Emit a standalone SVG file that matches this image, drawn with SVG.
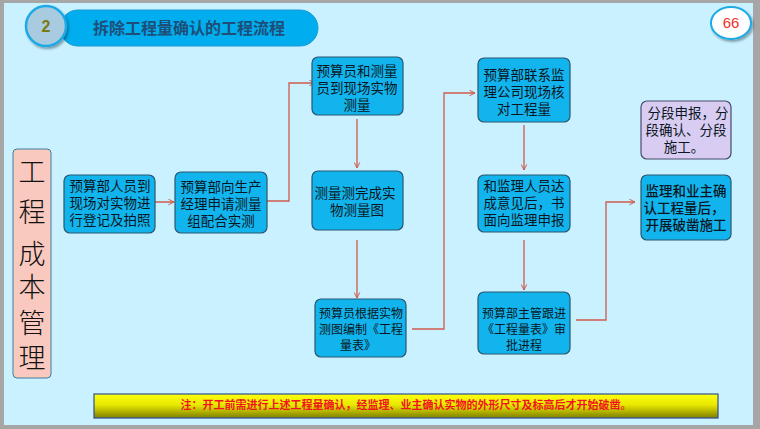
<svg xmlns="http://www.w3.org/2000/svg" width="760" height="429" viewBox="0 0 760 429">
<defs>
<style>
.box{fill:#12B4EE;stroke:#2A566E;stroke-width:1.2}
.lav{fill:#D8CCF2;stroke:#4A4A6A;stroke-width:1.2}
.t{font-family:"Liberation Sans","Noto Sans CJK SC",sans-serif;font-size:13.5px;fill:#0A1622;text-anchor:middle}
.s{font-size:12px}
.b{font-weight:500}
.con{fill:none;stroke:#CF5A4C;stroke-width:1.3}
</style>
<marker id="ar" viewBox="0 0 10 10" refX="9" refY="5" markerWidth="7" markerHeight="7" orient="auto" markerUnits="userSpaceOnUse">
<path d="M1,1 L9,5 L1,9" fill="none" stroke="#CF5A4C" stroke-width="1.4"/>
</marker>
<linearGradient id="yg" x1="0" y1="0" x2="0" y2="1">
<stop offset="0" stop-color="#FFFF10"/>
<stop offset="0.45" stop-color="#E8E800"/>
<stop offset="1" stop-color="#7F7F00"/>
</linearGradient>
<filter id="sh" x="-20%" y="-20%" width="140%" height="140%">
<feDropShadow dx="1.5" dy="2" stdDeviation="1.2" flood-color="#000" flood-opacity="0.35"/>
</filter>
</defs>
<rect x="0" y="0" width="760" height="429" fill="#A6A6A6"/>
<rect x="4" y="3" width="749" height="422" fill="#C9F1FF"/>

<g id="header">
<rect x="60" y="10" width="258" height="36" rx="18" fill="#00ADEF" stroke="#1A9AD0" stroke-width="1"/>
<circle cx="46" cy="26" r="20" fill="#A9CBE0" stroke="#1AA9E6" stroke-width="2.5" filter="url(#sh)"/>
<text x="46" y="32" font-family="Liberation Sans,sans-serif" font-size="16" font-weight="bold" fill="#7A7A10" text-anchor="middle">2</text>
<text x="189" y="34" font-family="Noto Sans CJK SC,sans-serif" font-size="16" font-weight="bold" fill="#1D4F78" text-anchor="middle">拆除工程量确认的工程流程</text>
</g>

<g id="page">
<ellipse cx="731" cy="23" rx="20" ry="16" fill="#FFFFFF" stroke="#1AA9E6" stroke-width="2" filter="url(#sh)"/>
<text x="731" y="28" font-family="Liberation Sans,sans-serif" font-size="15" fill="#F0302A" text-anchor="middle">66</text>
</g>

<g id="side">
<rect x="13" y="149" width="38" height="229" rx="4" fill="#F9C8BE" stroke="#3F7E9E" stroke-width="1"/>
<text font-family="Liberation Sans,Noto Sans CJK SC,sans-serif" font-size="27" font-weight="300" fill="#111" text-anchor="middle"><tspan x="32" y="182">工</tspan><tspan x="32" y="222">程</tspan><tspan x="32" y="264">成</tspan><tspan x="32" y="297">本</tspan><tspan x="32" y="333">管</tspan><tspan x="32" y="368">理</tspan></text>
</g>

<g id="connectors">
<path class="con" d="M140,202 L174,202" marker-end="url(#ar)"/>
<path class="con" d="M258,201 L289,201 L289,83 L315,83" marker-end="url(#ar)"/>
<path class="con" d="M357,119 L357,168" marker-end="url(#ar)"/>
<path class="con" d="M357,240 L357,298" marker-end="url(#ar)"/>
<path class="con" d="M412,329 L444,329 L444,93 L475,93" marker-end="url(#ar)"/>
<path class="con" d="M524,125 L524,170" marker-end="url(#ar)"/>
<path class="con" d="M524,240 L524,290" marker-end="url(#ar)"/>
<path class="con" d="M576,320 L606,320 L606,202 L635,202" marker-end="url(#ar)"/>
</g>

<g id="n1">
<rect class="box" x="64" y="175" width="91" height="58" rx="6"/>
<text class="t"><tspan x="110" y="191">预算部人员到</tspan><tspan x="110" y="208">现场对实物进</tspan><tspan x="110" y="225">行登记及拍照</tspan></text>
</g>
<g id="n2">
<rect class="box" x="175" y="172" width="92" height="61" rx="6"/>
<text class="t"><tspan x="221" y="192">预算部向生产</tspan><tspan x="221" y="209">经理申请测量</tspan><tspan x="221" y="226">组配合实测</tspan></text>
</g>
<g id="n3">
<rect class="box" x="312" y="57" width="91" height="58" rx="6"/>
<text class="t"><tspan x="357" y="76">预算员和测量</tspan><tspan x="357" y="93">员到现场实物</tspan><tspan x="357" y="110">测量</tspan></text>
</g>
<g id="n4">
<rect class="box" x="312" y="171" width="91" height="59" rx="6"/>
<text class="t"><tspan x="355" y="198">测量测完成实</tspan><tspan x="357" y="215">物测量图</tspan></text>
</g>
<g id="n5">
<rect class="box" x="315" y="299" width="91" height="58" rx="6"/>
<text class="t s"><tspan x="361" y="318">预算员根据实物</tspan><tspan x="361" y="334">测图编制《工程</tspan><tspan x="358" y="350">量表》</tspan></text>
</g>
<g id="n6">
<rect class="box" x="478" y="58" width="92" height="64" rx="6"/>
<text class="t"><tspan x="524" y="80">预算部联系监</tspan><tspan x="524" y="97">理公司现场核</tspan><tspan x="524" y="114">对工程量</tspan></text>
</g>
<g id="n7">
<rect class="box" x="478" y="175" width="92" height="57" rx="6"/>
<text class="t"><tspan x="524" y="191">和监理人员达</tspan><tspan x="524" y="208">成意见后，书</tspan><tspan x="524" y="225">面向监理申报</tspan></text>
</g>
<g id="n8">
<rect class="box" x="478" y="292" width="92" height="62" rx="6"/>
<text class="t s"><tspan x="524" y="318">预算部主管跟进</tspan><tspan x="524" y="334">《工程量表》审</tspan><tspan x="524" y="350">批进程</tspan></text>
</g>
<g id="n9">
<rect class="lav" x="641" y="101" width="90" height="58" rx="6"/>
<text class="t"><tspan x="688" y="118">分段申报，分</tspan><tspan x="686" y="135">段确认、分段</tspan><tspan x="684" y="152">施工。</tspan></text>
</g>
<g id="n10">
<rect class="box" x="641" y="175" width="90" height="65" rx="6"/>
<text class="t b"><tspan x="686" y="196">监理和业主确</tspan><tspan x="684" y="213">认工程量后，</tspan><tspan x="686" y="230">开展破凿施工</tspan></text>
</g>

<g id="note">
<rect x="94" y="394" width="624" height="24" fill="url(#yg)" stroke="#2F4F8F" stroke-width="1.2"/>
<text x="406" y="409" font-family="Noto Sans CJK SC,sans-serif" font-size="11" font-weight="bold" fill="#F0141E" text-anchor="middle">注：开工前需进行上述工程量确认，经监理、业主确认实物的外形尺寸及标高后才开始破凿。</text>
</g>
</svg>
